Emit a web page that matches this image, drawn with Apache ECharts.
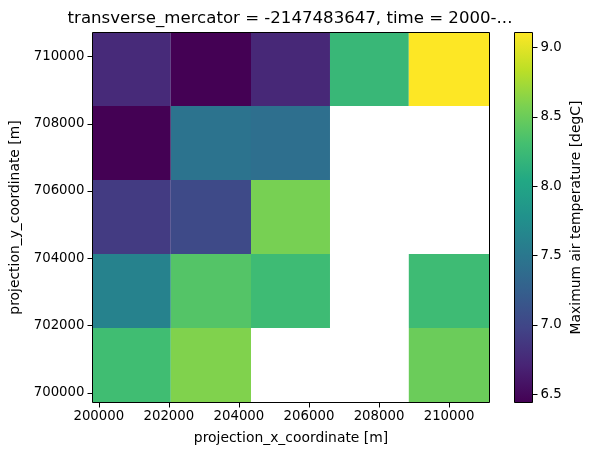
<!DOCTYPE html>
<html>
<head>
<meta charset="utf-8">
<style>
  html, body { margin: 0; padding: 0; background: #fff; }
  #chart { width: 593px; height: 455px; }
</style>
<script src="https://cdn.jsdelivr.net/npm/echarts@6/dist/echarts.min.js"></script>
</head>
<body>
<div id="chart"></div>
<script>
// cell edges in metres, left to right and bottom to top
const xEdges = [199820, 202055, 204345, 206600, 208850, 211154];
const yEdges = [699711, 701930, 704128, 706329, 708530, 710715];

// temperatures per row, bottom row first, null = no data
const row700 = [8.28, 8.6, null, null, 8.5];
const row702 = [7.62, 8.39, 8.26, null, 8.26];
const row704 = [6.9, 7.03, 8.56, null, null];
const row706 = [6.44, 7.45, 7.41, null, null];
const row708 = [6.76, 6.44, 6.74, 8.22, 9.11];
const rows = [row700, row702, row704, row706, row708];

const xTicks = [200000, 202000, 204000, 206000, 208000, 210000];
const yTicks = [700000, 702000, 704000, 706000, 708000, 710000];
const cbarTicks = [6.5, 7.0, 7.5, 8.0, 8.5, 9.0];
const vMin = 6.44;
const vMax = 9.11;

const viridis = ['#440154', '#482475', '#414487', '#355f8d', '#2a788e', '#21918c',
    '#22a884', '#44bf70', '#7ad151', '#bddf26', '#fde725'];

const FONT = '"DejaVu Sans"';
const TEXT = '#000';

const cells = [];
rows.forEach(function(row, r) {
    row.forEach(function(v, c) {
        if (v !== null) cells.push([xEdges[c], xEdges[c + 1], yEdges[r], yEdges[r + 1], v]);
    });
});

function rectOf(api) {
    const p0 = api.coord([api.value(0), api.value(2)]);
    const p1 = api.coord([api.value(1), api.value(3)]);
    return { x: p0[0], y: p1[1], width: p1[0] - p0[0], height: p0[1] - p1[1] };
}

function renderCell(params, api) {
    return { type: 'rect', shape: rectOf(api), style: { fill: api.visual('color') } };
}

function renderFrame(params, api) {
    return { type: 'rect', shape: rectOf(api), style: { fill: 'none', stroke: '#000', lineWidth: 1 } };
}

function renderBar(params, api) {
    const stops = viridis.map(function(c, i) {
        return { offset: 1 - i / (viridis.length - 1), color: c };
    });
    return {
        type: 'rect',
        shape: rectOf(api),
        style: { fill: new echarts.graphic.LinearGradient(0, 0, 0, 1, stops) }
    };
}

function tickAxis(extra) {
    return Object.assign({
        type: 'value',
        scale: true,
        splitLine: { show: false },
        axisLine: { show: false, onZero: false },
        nameTextStyle: { fontFamily: FONT, fontSize: 13.9, color: TEXT }
    }, extra);
}

const chart = echarts.init(document.getElementById('chart'));

chart.setOption({
    animation: false,
    backgroundColor: '#fff',
    title: {
        text: 'transverse_mercator = -2147483647, time = 2000-...',
        left: 285,
        top: 5,
        textAlign: 'center',
        textStyle: { fontFamily: FONT, fontSize: 16.6, fontWeight: 'normal', color: TEXT }
    },
    grid: [
        { left: 92.5, top: 32.5, width: 397, height: 370 },
        { left: 514.5, top: 32.5, width: 18, height: 370 }
    ],
    xAxis: [
        tickAxis({
            gridIndex: 0,
            min: xEdges[0],
            max: xEdges[5],
            name: 'projection_x_coordinate [m]',
            nameLocation: 'middle',
            nameGap: 29,
            axisTick: { length: 5, lineStyle: { color: '#000', width: 1 }, customValues: xTicks },
            axisLabel: {
                customValues: xTicks,
                formatter: function(v) { return String(v); },
                fontFamily: FONT, fontSize: 13.3, color: TEXT, margin: 8
            }
        }),
        tickAxis({
            gridIndex: 1,
            min: 0,
            max: 1,
            axisTick: { show: false },
            axisLabel: { show: false }
        })
    ],
    yAxis: [
        tickAxis({
            gridIndex: 0,
            min: yEdges[0],
            max: yEdges[5],
            name: 'projection_y_coordinate [m]',
            nameLocation: 'middle',
            nameGap: 66,
            axisTick: { length: 5, lineStyle: { color: '#000', width: 1 }, customValues: yTicks },
            axisLabel: {
                customValues: yTicks,
                formatter: function(v) { return String(v); },
                fontFamily: FONT, fontSize: 13.3, color: TEXT, margin: 8
            }
        }),
        tickAxis({
            gridIndex: 1,
            position: 'right',
            min: vMin,
            max: vMax,
            name: 'Maximum air temperature [degC]',
            nameLocation: 'middle',
            nameGap: 37,
            nameRotate: 90,
            axisTick: { length: 5, lineStyle: { color: '#000', width: 1 }, customValues: cbarTicks },
            axisLabel: {
                customValues: cbarTicks,
                formatter: function(v) { return v.toFixed(1); },
                fontFamily: FONT, fontSize: 13.3, color: TEXT, margin: 8
            }
        })
    ],
    visualMap: {
        show: false,
        type: 'continuous',
        seriesIndex: 0,
        dimension: 4,
        min: vMin,
        max: vMax,
        inRange: { color: viridis }
    },
    series: [
        {
            type: 'custom',
            xAxisIndex: 0,
            yAxisIndex: 0,
            renderItem: renderCell,
            encode: { x: [0, 1], y: [2, 3] },
            data: cells
        },
        {
            type: 'custom',
            xAxisIndex: 0,
            yAxisIndex: 0,
            z: 5,
            clip: false,
            silent: true,
            renderItem: renderFrame,
            encode: { x: [0, 1], y: [2, 3] },
            data: [[xEdges[0], xEdges[5], yEdges[0], yEdges[5]]]
        },
        {
            type: 'custom',
            xAxisIndex: 1,
            yAxisIndex: 1,
            renderItem: renderBar,
            encode: { x: [0, 1], y: [2, 3] },
            data: [[0, 1, vMin, vMax]]
        },
        {
            type: 'custom',
            xAxisIndex: 1,
            yAxisIndex: 1,
            z: 5,
            clip: false,
            silent: true,
            renderItem: renderFrame,
            encode: { x: [0, 1], y: [2, 3] },
            data: [[0, 1, vMin, vMax]]
        }
    ]
});
</script>
</body>
</html>
